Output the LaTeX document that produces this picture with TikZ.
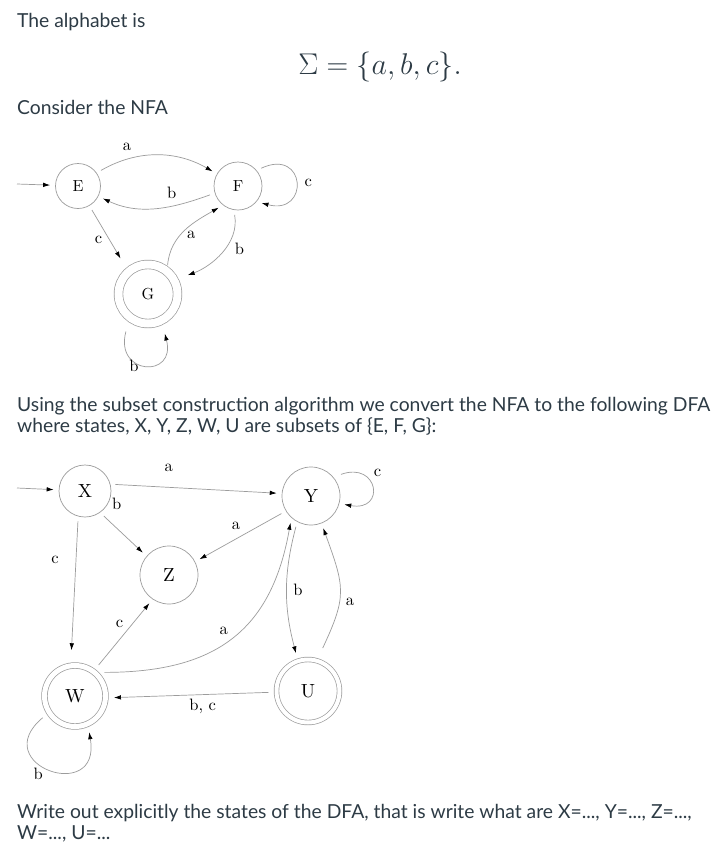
\documentclass[tikz,border=0pt]{standalone}
\usepackage{fix-cm}
\usepackage[no-math]{fontspec}
\setmainfont{Lato}
\newfontfamily\lmfont{lmroman10-regular.otf}
\usepackage{xcolor}
\usetikzlibrary{arrows.meta}
\definecolor{txt}{HTML}{2D3B45}
\definecolor{edgegray}{HTML}{9C9C9C}
\tikzset{
  nst/.style={circle,draw=edgegray,line width=0.7pt,inner sep=0pt,minimum size=45pt,
    font=\lmfont\fontsize{16}{16}\selectfont},
  nacc/.style={nst,double=white,double distance=8pt,minimum size=59pt,outer sep=4.5pt},
  dst/.style={nst,minimum size=52pt,font=\lmfont\fontsize{19}{19}\selectfont},
  dacc/.style={dst,double=white,double distance=5pt,minimum size=61pt,outer sep=3.5pt},
  trans/.style={draw=edgegray,line width=0.7pt,-{Latex[length=7pt,width=4.5pt,color=black]},
    shorten <=5pt,shorten >=5pt},
  lbl/.style={font=\lmfont\fontsize{16.5}{16.5}\selectfont,inner sep=1pt},
  para/.style={font=\fontsize{19.3}{23}\selectfont,text=txt,anchor=base west,inner sep=0pt},
}
\begin{document}
\begin{tikzpicture}[x=1pt,y=-1pt]
\fill[white] (0,0) rectangle (716,860);
\useasboundingbox (0,0) rectangle (716,860);
% question text
\node[para] (alpha) at (17,27) {The alphabet is};
\node[anchor=base,inner sep=0pt,text=txt,font=\fontsize{30}{30}\selectfont] (sigma) at (380,74) {$\Sigma=\{a,b,c\}.$};
\node[para] (cons) at (17,114) {Consider the NFA};
\node[para] (use1) at (17,411) {Using the subset construction algorithm we convert the NFA to the following DFA};
\node[para] (use2) at (17,432) {where states, X, Y, Z, W, U are subsets of \{E, F, G\}:};
\node[para] (ask1) at (17,818) {Write out explicitly the states of the DFA, that is write what are X=..., Y=..., Z=...,};
\node[para] (ask2) at (17,839) {W=..., U=...};
% NFA
\node[nst] (E) at (78,186) {E};
\node[nst,minimum size=48pt] (F) at (238,186) {F};
\node[nacc] (G) at (148,294) {G};
\coordinate (ein) at (17,184);
\draw[trans,shorten <=0pt] (ein) -- (E);
\draw[trans] (E.35) to[out=30,in=150] node[lbl,pos=0.25,above=8pt]{a} (F.150);
\draw[trans] (F.-163) to[out=-160,in=-25] node[lbl,pos=0.36,above=6pt]{b} (E.-27);
\draw[trans] (F.40) to[out=25,in=-15,looseness=4.5] node[lbl,pos=0.5,right=8pt]{c} (F.-40);
\draw[trans,shorten >=11pt] (E.-60) -- node[lbl,pos=0.55,left=6pt]{c} (G.130);
\draw[trans,shorten <=1pt] (G.55) to[out=85,in=-150] node[lbl,pos=0.5,below right=0pt]{a} (F.-128);
\draw[trans,shorten >=10pt] (F.-100) to[out=-80,in=20] node[lbl,pos=0.45,right=10pt]{b} (G.27);
\draw[trans,shorten <=10pt,shorten >=9pt] (G.-125) to[out=-105,in=-75,looseness=4.2] node[lbl,pos=0.33,below=0pt]{b} (G.-65);
% DFA
\node[dst] (X) at (85,491) {X};
\node[dst,minimum size=58pt] (Y) at (311,496) {Y};
\node[dst,minimum size=58pt] (Z) at (169,575) {Z};
\node[dacc] (W) at (75,696) {W};
\node[dacc,minimum size=63pt,double distance=4pt,outer sep=3pt] (U) at (308,691) {U};
\coordinate (xin) at (17,488);
\draw[trans,shorten <=0pt] (xin) -- (X);
\draw[trans] (X.15) -- node[lbl,pos=0.34,above=14pt]{a} (Y.175);
\draw[trans,shorten <=8pt] (Y.40) to[out=20,in=-10,looseness=4.5] node[lbl,pos=0.4,above right=4pt]{c} (Y.-15);
\draw[trans] (X.-55) -- node[lbl,pos=0.1,above right=6pt]{b} (Z.140);
\draw[trans] (Y.211) -- node[lbl,pos=0.55,above=8pt]{a} (Z.27);
\draw[trans,shorten >=12pt] (X.-105) -- node[lbl,pos=0.3,left=16pt]{c} (W.97);
\draw[trans] (W.53) -- node[lbl,pos=0.65,left=8pt]{c} (Z.-124);
\draw[trans] (W.44) to[out=0,in=-100,looseness=1.2] node[lbl,pos=0.5,above left=2pt]{a} (Y.-132);
\draw[trans] (Y.-118) to[out=-105,in=105] node[lbl,pos=0.5,right=5pt]{b} (U.108);
\draw[trans,shorten <=11pt] (U.73) to[out=65,in=-70,looseness=1.3] node[lbl,pos=0.4,right=6pt]{a} (Y.-69);
\draw[trans] (U.182) -- node[lbl,pos=0.43,below=3pt]{b, c} (W.-3);
\draw[trans] (W.213) to[out=220,in=-80,looseness=4.6] node[lbl,pos=0.45,below left=0pt]{b} (W.-67);
\end{tikzpicture}
\end{document}
